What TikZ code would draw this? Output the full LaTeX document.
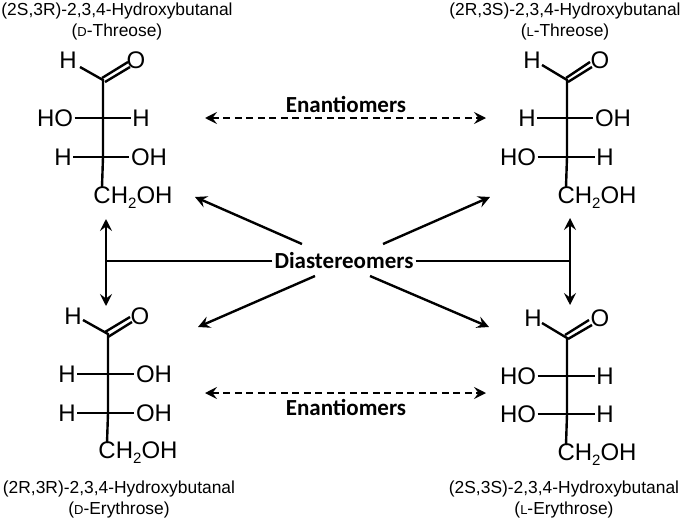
\documentclass[tikz,border=0pt]{standalone}
\usepackage{fontspec}
\setmainfont{Liberation Sans}
\newfontfamily\boldlab[BoldFont=Carlito Bold]{Carlito}
\usetikzlibrary{arrows.meta}
\begin{document}
\begin{tikzpicture}[x=1pt,y=-1pt,
  atom/.style={inner sep=1.5pt,font=\fontsize{24}{26}\selectfont},
  title/.style={inner sep=0pt,align=center,font=\fontsize{17.4}{21}\selectfont},
  heading/.style={inner sep=2pt,font=\boldlab\bfseries\fontsize{23}{26}\selectfont},
  bond/.style={line width=2.4pt},
  tip/.style={-{Stealth[length=12pt,width=12pt,inset=4.5pt]}},
  twotip/.style={{Stealth[length=12pt,width=12pt,inset=4.5pt]}-{Stealth[length=12pt,width=12pt,inset=4.5pt]}},
  arr/.style={line width=2.4pt}]
\useasboundingbox (0,0) rectangle (685,522);
\newcommand{\smallD}{{\fontsize{13}{14}\selectfont D}}
\newcommand{\smallL}{{\fontsize{13}{14}\selectfont L}}
\newcommand{\cho}{CH\raisebox{-5pt}{\fontsize{15}{16}\selectfont 2}OH}
% titles
\node[title] (t1) at (117,21) {(2S,3R)-2,3,4-Hydroxybutanal\\(\smallD-Threose)};
\node[title] (t2) at (565,21) {(2R,3S)-2,3,4-Hydroxybutanal\\(\smallL-Threose)};
\node[title] (t3) at (119,499) {(2R,3R)-2,3,4-Hydroxybutanal\\(\smallD-Erythrose)};
\node[title] (t4) at (564,499) {(2S,3S)-2,3,4-Hydroxybutanal\\(\smallL-Erythrose)};
% top-left
\coordinate (a1) at (103,80); \coordinate (a2) at (103,118); \coordinate (a3) at (103,157); \coordinate (a4) at (102,187);
\coordinate (aHe) at (80,67);
\node[atom] (aH) at (68,60) {H}; \node[atom] (aO) at (136,60) {O};
\node[atom] (aL2) at (55,118) {HO}; \node[atom] (aR2) at (141,118) {H};
\node[atom] (aL3) at (63,157) {H}; \node[atom] (aR3) at (149,157) {OH};
\node[atom] (aB) at (133,198) {\cho};
\draw[bond] (aHe) -- (a1) -- (a2) -- (a3) -- (a4);
\draw[bond] (aL2) -- (aR2) (aL3) -- (aR3);
\draw[bond] (102,78) -- (128,62) (105,82) -- (130,67);
% top-right
\coordinate (b1) at (567,80); \coordinate (b2) at (567,118); \coordinate (b3) at (567,157); \coordinate (b4) at (566,187);
\coordinate (bHe) at (542,65);
\node[atom] (bH) at (532,60) {H}; \node[atom] (bO) at (600,60) {O};
\node[atom] (bL2) at (527,118) {H}; \node[atom] (bR2) at (613,118) {OH};
\node[atom] (bL3) at (518,157) {HO}; \node[atom] (bR3) at (605,157) {H};
\node[atom] (bB) at (597,198) {\cho};
\draw[bond] (bHe) -- (b1) -- (b2) -- (b3) -- (b4);
\draw[bond] (bL2) -- (bR2) (bL3) -- (bR3);
\draw[bond] (566,78) -- (590,62) (568,82) -- (592,67);
% bottom-left
\coordinate (c1) at (108,334); \coordinate (c2) at (108,374); \coordinate (c3) at (108,413); \coordinate (c4) at (107,443);
\coordinate (cHe) at (83,320);
\node[atom] (cH) at (73,316) {H}; \node[atom] (cO) at (140,316) {O};
\node[atom] (cL2) at (67,374) {H}; \node[atom] (cR2) at (154,374) {OH};
\node[atom] (cL3) at (67,413) {H}; \node[atom] (cR3) at (154,413) {OH};
\node[atom] (cB) at (138,453) {\cho};
\draw[bond] (cHe) -- (c1) -- (c2) -- (c3) -- (c4);
\draw[bond] (cL2) -- (cR2) (cL3) -- (cR3);
\draw[bond] (105,332) -- (130,317) (108,337) -- (132,322);
% bottom-right
\coordinate (d1) at (567,338); \coordinate (d2) at (567,376); \coordinate (d3) at (567,414); \coordinate (d4) at (566,445);
\coordinate (dHe) at (542,323);
\node[atom] (dH) at (533,318) {H}; \node[atom] (dO) at (600,318) {O};
\node[atom] (dL2) at (518,376) {HO}; \node[atom] (dR2) at (605,376) {H};
\node[atom] (dL3) at (518,414) {HO}; \node[atom] (dR3) at (605,414) {H};
\node[atom] (dB) at (597,455) {\cho};
\draw[bond] (dHe) -- (d1) -- (d2) -- (d3) -- (d4);
\draw[bond] (dL2) -- (dR2) (dL3) -- (dR3);
\draw[bond] (565,335) -- (589,320) (568,339) -- (592,325);
% headings
\node[heading] (en1) at (346,104) {Enantiomers};
\node[heading] (en2) at (346,407) {Enantiomers};
\node[heading] (dia) at (344,261) {Diastereomers};
% dashed arrows
\coordinate (e1l) at (205,118); \coordinate (e1r) at (486,118);
\coordinate (e2l) at (205,393); \coordinate (e2r) at (486,393);
\draw[arr,twotip,dash pattern=on 7pt off 4.5pt] (e1l) -- (e1r);
\draw[arr,twotip,dash pattern=on 7pt off 4.5pt] (e2l) -- (e2r);
% diastereomer arrows
\coordinate (s1) at (302,244); \coordinate (s2) at (315,276);
\coordinate (s3) at (383,244); \coordinate (s4) at (370,276);
\coordinate (n1) at (195,197); \coordinate (n2) at (198,327);
\coordinate (n3) at (490,197); \coordinate (n4) at (489,327);
\draw[arr,tip] (s1) -- (n1);
\draw[arr,tip] (s2) -- (n2);
\draw[arr,tip] (s3) -- (n3);
\draw[arr,tip] (s4) -- (n4);
% vertical double arrows
\coordinate (jl) at (106,261); \coordinate (jr) at (570,261);
\coordinate (vl1) at (106,219); \coordinate (vl2) at (106,306);
\coordinate (vr1) at (570,218); \coordinate (vr2) at (570,305);
\draw[arr,twotip] (vl1) -- (vl2);
\draw[arr,twotip] (vr1) -- (vr2);
\draw[arr] (dia.west) -- (jl);
\draw[arr] (dia.east) -- (jr);
\end{tikzpicture}
\end{document}
